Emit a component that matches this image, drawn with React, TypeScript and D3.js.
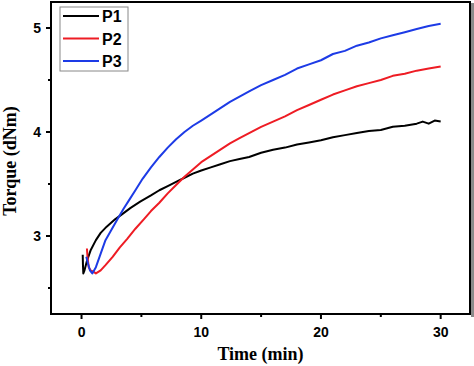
import React from "react";
import * as d3 from "d3";

// Torque vs. time for three compounds
const p1Time = [0.1, 0.12, 0.15, 0.25, 0.45, 0.75, 1.2, 1.6, 2.1, 2.8, 3.4, 4.1, 4.9, 5.8, 6.5, 7.2, 7.9, 8.6, 9.3, 10, 10.8, 11.6, 12.4, 13.2, 14, 15, 16, 17, 18, 19, 20, 21, 22, 23, 24, 25, 26, 27, 28, 28.5, 29, 29.5, 30];
const p1Torque = [2.82, 2.72, 2.64, 2.67, 2.76, 2.86, 2.96, 3.03, 3.09, 3.16, 3.21, 3.27, 3.33, 3.39, 3.44, 3.48, 3.52, 3.56, 3.6, 3.63, 3.66, 3.69, 3.72, 3.74, 3.76, 3.8, 3.83, 3.85, 3.88, 3.9, 3.92, 3.95, 3.97, 3.99, 4.01, 4.02, 4.05, 4.06, 4.08, 4.1, 4.08, 4.11, 4.1];

const p2Time = [0.45, 0.5, 0.6, 0.75, 0.95, 1.2, 1.6, 2.0, 2.6, 3.2, 3.8, 4.5, 5.2, 5.8, 6.5, 7.2, 7.9, 8.6, 9.3, 10, 10.8, 11.6, 12.4, 13.2, 14, 15, 16, 17, 18, 19, 20, 21, 22, 23, 24, 25, 26, 27, 28, 29, 29.5, 30];
const p2Torque = [2.88, 2.8, 2.7, 2.67, 2.66, 2.64, 2.67, 2.72, 2.8, 2.89, 2.97, 3.07, 3.16, 3.24, 3.32, 3.41, 3.49, 3.57, 3.64, 3.71, 3.77, 3.83, 3.89, 3.94, 3.99, 4.05, 4.1, 4.15, 4.21, 4.26, 4.31, 4.36, 4.4, 4.44, 4.47, 4.5, 4.54, 4.56, 4.59, 4.61, 4.62, 4.63];

const p3Time = [0.4, 0.55, 0.7, 0.9, 1.2, 1.6, 2.0, 2.5, 3.0, 3.5, 4.0, 4.5, 5.1, 5.8, 6.5, 7.2, 7.9, 8.6, 9.3, 10, 10.8, 11.6, 12.4, 13.2, 14, 15, 16, 17, 18, 19, 20, 21, 22, 23, 24, 25, 26, 27, 28, 29, 30];
const p3Torque = [2.8, 2.73, 2.67, 2.64, 2.7, 2.83, 2.96, 3.06, 3.16, 3.26, 3.35, 3.44, 3.55, 3.66, 3.76, 3.85, 3.93, 4.0, 4.06, 4.11, 4.17, 4.23, 4.29, 4.34, 4.39, 4.45, 4.5, 4.55, 4.61, 4.65, 4.69, 4.75, 4.78, 4.83, 4.86, 4.9, 4.93, 4.96, 4.99, 5.02, 5.04];

const seriesNames = ["P1", "P2", "P3"];
const seriesColors = ["#000000", "#ee1c24", "#1d3be6"];

const xTicks = [0, 10, 20, 30];
const xMinor = [5, 15, 25];
const yTicks = [3, 4, 5];
const yMinor = [2.5, 3.5, 4.5];

const W = 474;
const H = 366;
const left = 51;
const right = 470;
const top = 2;
const bottom = 314;

export default function App() {
  const x = d3.scaleLinear().domain([-2.55, 32.45]).range([left, right]);
  const y = d3.scaleLinear().domain([2.25, 5.25]).range([bottom, top]);

  const series = [
    { t: p1Time, v: p1Torque },
    { t: p2Time, v: p2Torque },
    { t: p3Time, v: p3Torque },
  ];

  const line = d3
    .line<[number, number]>()
    .x((d) => x(d[0]))
    .y((d) => y(d[1]));

  const tickFont = "Arial, 'Liberation Sans', sans-serif";
  const titleFont = "'Times New Roman', 'Liberation Serif', serif";

  return (
    <svg
      width={W}
      height={H}
      style={{ position: "absolute", left: 0, top: 0, background: "#fff" }}
    >
      {/* frame shadow */}
      <rect x={right + 1} y={top + 1} width={3} height={bottom - top + 2} fill="#8a8a8a" />

      {series.map((s, i) => (
        <path
          key={i}
          d={line(s.t.map((t, j) => [t, s.v[j]] as [number, number])) || ""}
          fill="none"
          stroke={seriesColors[i]}
          strokeWidth={2}
          strokeLinejoin="round"
        />
      ))}

      {/* frame */}
      <rect
        x={left}
        y={top}
        width={right - left}
        height={bottom - top}
        fill="none"
        stroke="#000"
        strokeWidth={2}
      />

      {/* x axis ticks */}
      {xTicks.map((t) => (
        <g key={"xt" + t}>
          <line x1={x(t)} x2={x(t)} y1={bottom} y2={bottom + 5} stroke="#000" strokeWidth={2} />
          <text
            x={x(t)}
            y={bottom + 23}
            textAnchor="middle"
            fontFamily={tickFont}
            fontWeight="bold"
            fontSize={14}
          >
            {t}
          </text>
        </g>
      ))}
      {xMinor.map((t) => (
        <line key={"xm" + t} x1={x(t)} x2={x(t)} y1={bottom} y2={bottom + 3} stroke="#000" strokeWidth={2} />
      ))}

      {/* y axis ticks */}
      {yTicks.map((v) => (
        <g key={"yt" + v}>
          <line x1={left - 5} x2={left} y1={y(v)} y2={y(v)} stroke="#000" strokeWidth={2} />
          <text
            x={left - 10}
            y={y(v) + 5}
            textAnchor="end"
            fontFamily={tickFont}
            fontWeight="bold"
            fontSize={14}
          >
            {v}
          </text>
        </g>
      ))}
      {yMinor.map((v) => (
        <line key={"ym" + v} x1={left - 3} x2={left} y1={y(v)} y2={y(v)} stroke="#000" strokeWidth={2} />
      ))}

      {/* axis titles */}
      <text
        x={(left + right) / 2}
        y={360}
        textAnchor="middle"
        fontFamily={titleFont}
        fontWeight="bold"
        fontSize={18}
      >
        Time (min)
      </text>
      <text
        transform={`translate(16, 161) rotate(-90)`}
        textAnchor="middle"
        fontFamily={titleFont}
        fontWeight="bold"
        fontSize={18}
      >
        Torque (dNm)
      </text>

      {/* legend */}
      <rect x={60} y={7} width={68} height={64} fill="#fff" stroke="#888" strokeWidth={1} />
      {seriesNames.map((name, i) => {
        const ly = 16 + i * 22.5;
        return (
          <g key={name}>
            <line x1={63} x2={99} y1={ly} y2={ly} stroke={seriesColors[i]} strokeWidth={2} />
            <text
              x={102}
              y={ly + 6}
              fontFamily={tickFont}
              fontWeight="bold"
              fontSize={16}
            >
              {name}
            </text>
          </g>
        );
      })}
    </svg>
  );
}
